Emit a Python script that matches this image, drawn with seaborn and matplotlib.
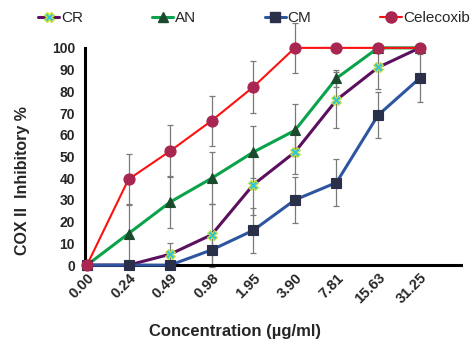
import matplotlib
matplotlib.use("Agg")
import matplotlib.pyplot as plt
from matplotlib.lines import Line2D
import seaborn as sns
import numpy as np
import pandas as pd

# Concentrations (µg/ml) shown as categorical ticks
concentrations = ["0.00", "0.24", "0.49", "0.98", "1.95", "3.90", "7.81", "15.63", "31.25"]

# Mean COX II inhibition (%) per sample
cr = [0, 0, 5, 14, 37, 52, 76, 91, 100]
an = [0, 14.5, 29, 40, 52, 62, 86, 100, 100]
cm = [0, 0, 0, 7, 16, 30, 38, 69, 86]
celecoxib = [0, 39.5, 52.5, 66.5, 82, 100, 100, 100, 100]

# Standard deviations
cr_err = [0, 0, 5, 14, 14, 10, 13, 10, 0]
an_err = [0, 13, 12, 12, 12, 12, 4, 0, 0]
cm_err = [0, 0, 0, 8, 10.5, 10.5, 10.7, 10.5, 11]
celecoxib_err = [0, 11.5, 12, 11.5, 12, 11.6, 0, 0, 0]

series = ["CR", "AN", "CM", "Celecoxib"]
values = {"CR": cr, "AN": an, "CM": cm, "Celecoxib": celecoxib}
errors = {"CR": cr_err, "AN": an_err, "CM": cm_err, "Celecoxib": celecoxib_err}

styles = {
    "CR": dict(line="#5B0F5E", marker="X", mfc="#2EC4E0", mec="#C8E03A", ms=7, lw=2.2),
    "AN": dict(line="#0AA24A", marker="^", mfc="#1B4A2C", mec="#1B4A2C", ms=6.5, lw=2.2),
    "CM": dict(line="#2E55A0", marker="s", mfc="#2A2F4A", mec="#2A2F4A", ms=6.5, lw=2.2),
    "Celecoxib": dict(line="#FF1010", marker="o", mfc="#A82650", mec="#A82650", ms=8, lw=1.5),
}

rows = []
for s in series:
    for i, v in enumerate(values[s]):
        rows.append({"series": s, "idx": i, "value": v, "err": errors[s][i]})
df = pd.DataFrame(rows)

sns.set_style("white")
plt.rcParams["font.family"] = ["Liberation Sans", "DejaVu Sans"]

fig = plt.figure(figsize=(4.74, 3.47), dpi=100)
ax = fig.add_axes([0.179, 0.236, 0.794, 0.626])

# Error bars first, so lines sit on top
for s in series:
    d = df[df["series"] == s]
    ax.errorbar(d["idx"], d["value"], yerr=d["err"], fmt="none", ecolor="#7a7a7a",
                elinewidth=0.9, capsize=2.5, capthick=0.9, zorder=2, clip_on=False)

legend_handles = []
for s in series:
    st = styles[s]
    d = df[df["series"] == s]
    sns.lineplot(data=d, x="idx", y="value", ax=ax, color=st["line"], linewidth=st["lw"],
                 marker=st["marker"], markersize=st["ms"], markerfacecolor=st["mfc"],
                 markeredgecolor=st["mec"], markeredgewidth=0.8, legend=False,
                 zorder=3, clip_on=False)
    legend_handles.append(Line2D([], [], color=st["line"], lw=st["lw"], marker=st["marker"],
                                 markersize=st["ms"], markerfacecolor=st["mfc"],
                                 markeredgecolor=st["mec"], label=s))

ax.set_xlim(-0.05, 9.0)
ax.set_ylim(0, 100)
ax.set_yticks(np.arange(0, 101, 10))
ax.set_xticks(range(len(concentrations)))
ax.set_xticklabels(concentrations, rotation=45, ha="right", rotation_mode="anchor",
                   fontsize=10.5, fontweight="bold")
ax.set_xticks(np.arange(0.5, 9.0, 1.0), minor=True)
ax.tick_params(axis="x", which="major", length=0, pad=4)
ax.tick_params(axis="x", which="minor", direction="in", length=3, width=1.5, color="black")
ax.tick_params(axis="y", which="major", direction="out", length=4, width=1.5, color="black",
               labelsize=10, pad=3)
for lab in ax.get_yticklabels():
    lab.set_fontweight("bold")

for side in ["top", "right"]:
    ax.spines[side].set_visible(False)
for side in ["left", "bottom"]:
    ax.spines[side].set_linewidth(2.2)
    ax.spines[side].set_color("black")

ax.set_xlabel("")
ax.set_ylabel("COX II  Inhibitory %", fontsize=11.5, fontweight="bold")
ax.yaxis.set_label_coords(-0.146, 0.39)
fig.text(0.495, 0.045, "Concentration (µg/ml)", ha="center", va="center",
         fontsize=12, fontweight="bold")

fig.legend(handles=legend_handles, loc="lower left", ncol=4, frameon=False,
           bbox_to_anchor=(38 / 474, 0.928, 432 / 474, 0.06), mode="expand",
           borderaxespad=0, borderpad=0, handlelength=1.4, handletextpad=0.1,
           prop={"size": 11})

fig.savefig("out.png", dpi=100)
